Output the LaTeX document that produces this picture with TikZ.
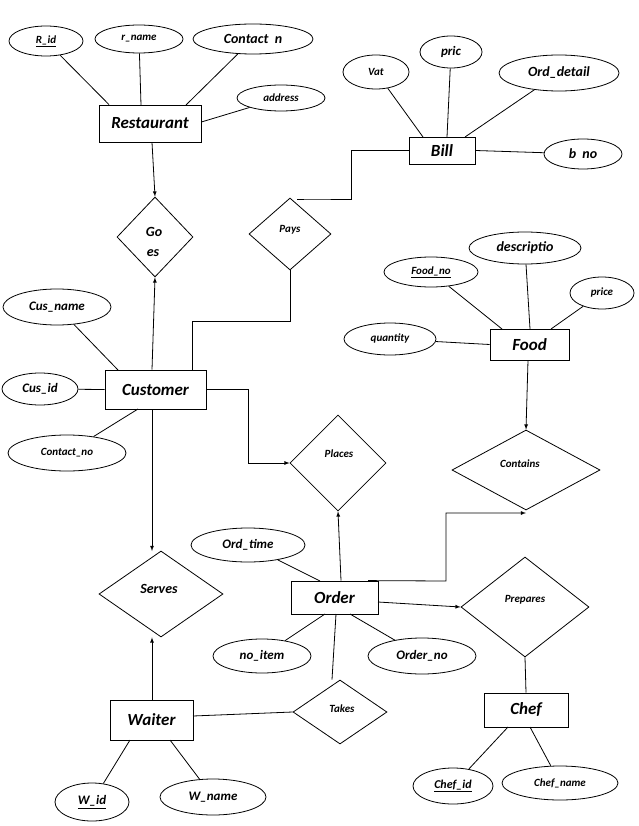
\documentclass[tikz,border=0pt]{standalone}
\usepackage{fontspec}
\setmainfont{Carlito}
\usetikzlibrary{shapes.geometric}
\begin{document}
\begin{tikzpicture}[x=1pt,y=-1pt,line width=0.8pt,
 attr/.style={draw,ellipse,inner sep=0pt,font=\bfseries\itshape\fontsize{12}{12}\selectfont},
 ent/.style={draw,rectangle,inner sep=0pt,font=\bfseries\itshape\fontsize{17}{17}\selectfont},
 rel/.style={draw,diamond,inner sep=0pt},
 rtxt/.style={font=\bfseries\itshape\fontsize{12}{12}\selectfont},
 arr/.style={-latex}]
\useasboundingbox (0,0) rectangle (638,826);
% entities
\node[ent,minimum width=102,minimum height=37] (rest) at (150,123.5) {Restaurant};
\node[ent,minimum width=66,minimum height=27] (bill) at (442,150.5) {Bill};
\node[ent,minimum width=79,minimum height=31] (food) at (529.5,344.5) {Food};
\node[ent,minimum width=101,minimum height=39] (cust) at (155.5,389.5) {Customer};
\node[ent,minimum width=87,minimum height=33] (order) at (334.5,597.5) {Order};
\node[ent,minimum width=83,minimum height=40] (waiter) at (151.5,720) {Waiter};
\node[ent,minimum width=84,minimum height=34] (chef) at (526,710) {Chef};
% attributes
\node[attr,minimum width=74,minimum height=30,font=\bfseries\itshape\fontsize{11}{11}\selectfont] (rid) at (46,41) {\underline{R\_id}};
\node[attr,minimum width=88,minimum height=28,font=\bfseries\itshape\fontsize{11}{11}\selectfont] (rname) at (139,39) {r\_name};
\node[attr,minimum width=120,minimum height=30,font=\bfseries\itshape\fontsize{14}{14}\selectfont] (rcon) at (253,39) {Contact\ \ n};
\node[attr,minimum width=88,minimum height=26,font=\bfseries\itshape\fontsize{11}{11}\selectfont] (addr) at (281,98) {address};
\node[attr,minimum width=66,minimum height=34,font=\bfseries\itshape\fontsize{11}{11}\selectfont] (vat) at (376,72) {Vat};
\node[attr,minimum width=62,minimum height=32,font=\bfseries\itshape\fontsize{13}{13}\selectfont] (pric) at (451,52) {pric};
\node[attr,minimum width=120,minimum height=36,font=\bfseries\itshape\fontsize{14}{14}\selectfont] (odet) at (559,73) {Ord\_detail};
\node[attr,minimum width=78,minimum height=30,font=\bfseries\itshape\fontsize{14}{14}\selectfont] (bno) at (583,154) {b\ \ no};
\node[attr,minimum width=112,minimum height=32,font=\bfseries\itshape\fontsize{14}{14}\selectfont] (desc) at (525,248) {descriptio};
\node[attr,minimum width=94,minimum height=30,font=\bfseries\itshape\fontsize{11}{11}\selectfont] (fno) at (431,272) {\underline{Food\_no}};
\node[attr,minimum width=64,minimum height=32,font=\bfseries\itshape\fontsize{11}{11}\selectfont] (price) at (602,293) {price};
\node[attr,minimum width=92,minimum height=32,font=\bfseries\itshape\fontsize{11}{11}\selectfont] (qty) at (390,339) {quantity};
\node[attr,minimum width=108,minimum height=36,font=\bfseries\itshape\fontsize{13}{13}\selectfont] (cname) at (57,307) {Cus\_name};
\node[attr,minimum width=76,minimum height=32,font=\bfseries\itshape\fontsize{13}{13}\selectfont] (cid) at (40,389) {Cus\_id};
\node[attr,minimum width=118,minimum height=36,font=\bfseries\itshape\fontsize{11}{11}\selectfont] (ccon) at (67,453) {Contact\_no};
\node[attr,minimum width=114,minimum height=34,font=\bfseries\itshape\fontsize{13}{13}\selectfont] (otime) at (248,545) {Ord\_time};
\node[attr,minimum width=98,minimum height=34,font=\bfseries\itshape\fontsize{13}{13}\selectfont] (noitem) at (262,656) {no\_item};
\node[attr,minimum width=108,minimum height=36,font=\bfseries\itshape\fontsize{13}{13}\selectfont] (ono) at (422,656) {Order\_no};
\node[attr,minimum width=74,minimum height=38,font=\bfseries\itshape\fontsize{13}{13}\selectfont] (wid) at (92,802) {\underline{W\_id}};
\node[attr,minimum width=106,minimum height=36,font=\bfseries\itshape\fontsize{13}{13}\selectfont] (wname) at (213,797) {W\_name};
\node[attr,minimum width=80,minimum height=36,font=\bfseries\itshape\fontsize{12}{12}\selectfont] (chid) at (453,786) {\underline{Chef\_id}};
\node[attr,minimum width=116,minimum height=34,font=\bfseries\itshape\fontsize{11}{11}\selectfont] (chname) at (560,783) {Chef\_name};
% relationships
\node[rel,minimum width=76,minimum height=80] (goes) at (155,237) {};
\node[rel,minimum width=82,minimum height=72] (pays) at (290,234) {};
\node[rel,minimum width=96,minimum height=96] (places) at (338,463) {};
\node[rel,minimum width=148,minimum height=80] (contains) at (526,470) {};
\node[rel,minimum width=124,minimum height=86] (serves) at (161,594) {};
\node[rel,minimum width=128,minimum height=100] (prepares) at (525,607) {};
\node[rel,minimum width=94,minimum height=64] (takes) at (340,712) {};
\node[rtxt,font=\bfseries\itshape\fontsize{14}{14}\selectfont] (tgo) at (154,232) {Go};
\begin{scope}
\clip (130,246) rectangle (180,256);
\node[rtxt,font=\bfseries\itshape\fontsize{14}{14}\selectfont] (tes) at (153,253) {es};
\end{scope}
\node[rtxt,font=\bfseries\itshape\fontsize{11}{11}\selectfont] (tpays) at (290,230) {Pays};
\node[rtxt,font=\bfseries\itshape\fontsize{11}{11}\selectfont] (tplaces) at (339,454) {Places};
\node[rtxt,font=\bfseries\itshape\fontsize{11}{11}\selectfont] (tcont) at (520,464) {Contains};
\node[rtxt,font=\bfseries\itshape\fontsize{14}{14}\selectfont] (tserves) at (159,589) {Serves};
\node[rtxt,font=\bfseries\itshape\fontsize{11}{11}\selectfont] (tprep) at (525,600) {Prepares};
\node[rtxt,font=\bfseries\itshape\fontsize{11}{11}\selectfont] (ttakes) at (342,709) {Takes};
% attribute lines
\draw (rid) -- (rest.north west -| 109,105);
\draw (rname) -- (141,105);
\draw (rcon) -- (186,105);
\draw (addr) -- (rest.east |- 0,122);
\draw (vat) -- (423,137);
\draw (pric) -- (447,137);
\draw (odet) -- (465,137);
\draw (bno) -- (bill.east);
\draw (desc) -- (530,329);
\draw (fno) -- (502,329);
\draw (price) -- (551,329);
\draw (qty) -- (food.west);
\draw (cname) -- (118,370);
\draw (cid) -- (cust.west);
\draw (ccon) -- (138,409);
\draw (otime) -- (320,581);
\draw (noitem) -- (325,614);
\draw (ono) -- (350,614);
\draw (wid) -- (130,740);
\draw (wname) -- (170,740);
\draw (chid) -- (508,727);
\draw (chname) -- (530,727);
% relationship connectors
\draw[arr] (rest.south -| 152,0) -- (goes.north);
\draw (bill.west) -- (351,150.5) -- (351,199) -- (pays.north east |- 0,199) -- (297,199);
\draw (pays.south) -- (290,321) -- (192,321) -- (cust.north -| 192,0);
\draw[arr] (cust.north -| 152,0) -- (goes.south);
\draw[arr] (cust.east) -- (248,389.5) -- (248,463) -- (places.west);
\draw[arr] (cust.south -| 152,0) -- (152,551);
\draw[arr] (food.south -| 528,0) -- (contains.north);
\draw[arr] (order.north -| 341,0) -- (places.south);
\draw[arr] (order.north -| 368,0) -- (446,581) -- (446,513) -- (526,513);
\draw[arr] (378,602) -- (prepares.west);
\draw (prepares.south) -- (chef.north);
\draw[arr] (waiter.north -| 152,0) -- (serves.south -| 152,0);
\draw (193,716) -- (takes.west);
\draw (336,614) -- (takes.north -| 332,0);
\end{tikzpicture}
\end{document}
